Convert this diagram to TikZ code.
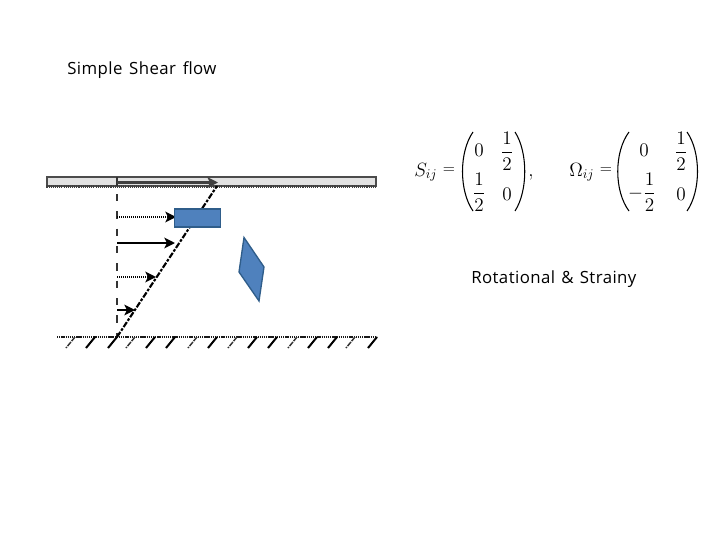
\documentclass[tikz,border=0pt]{standalone}
\usepackage{amsmath}
\usepackage{fontspec}
\setmainfont{Open Sans}[LetterSpace=2.5]
\usetikzlibrary{arrows.meta}
\definecolor{boxblue}{HTML}{4F81BD}
\definecolor{boxedge}{HTML}{2F5D8A}
\definecolor{plategray}{HTML}{E2E2E2}
\tikzset{
  blueshape/.style={fill=boxblue,draw=boxedge,line width=1pt},
  flowarrow/.style={line width=1.6pt,-{Stealth[length=8pt,width=8pt,inset=2pt]},black},
  dottedarrow/.style={flowarrow,line width=2.2pt,dash pattern=on 0.9pt off 0.6pt},
  profile/.style={line width=1.6pt,dash pattern=on 4.5pt off 1.2pt on 2pt off 1.2pt,black},
  axisline/.style={line width=1pt,dash pattern=on 5.5pt off 7.5pt,black!80},
  hatchline/.style={line width=1.5pt,black},
  thinhatch/.style={line width=1.1pt,dash pattern=on 4pt off 0.8pt,black!80},
  parenline/.style={line width=0.8pt,black},
  label/.style={inner sep=0pt,anchor=base west,font=\fontsize{12.6}{14}\selectfont},
  mathlabel/.style={inner sep=0pt,font=\fontsize{14.5}{16}\selectfont},
  eqsign/.style={inner sep=0pt,font=\fontsize{12.5}{14}\selectfont}
}
\begin{document}
\begin{tikzpicture}[x=0.75pt,y=-0.75pt]
\useasboundingbox (0,0) rectangle (728,546);
\node[label] (title) at (67,74) {Simple\hspace{1.5pt} Shear\hspace{1.5pt} flow};
\node[label] (rs) at (471,283) {Rotational\hspace{1.1pt} \&\hspace{1.1pt} Strainy};

% upper plate
\node[fill=plategray,draw=black!70,line width=0.8pt,minimum width=329*0.75pt,minimum height=9*0.75pt,inner sep=0pt] (plate) at (211.5,181.5) {};
\draw[line width=1.6pt,dash pattern=on 0.8pt off 0.8pt,black!75] (plate.south west) -- (plate.south east);

% ground
\coordinate (g0) at (57,337);
\coordinate (g1) at (377,337);
\draw[line width=1.6pt,dash pattern=on 1pt off 0.6pt,black!90] (g0) -- (g1);
\foreach \x/\s in {75/thinhatch,95/hatchline,117/hatchline,135/thinhatch,155/hatchline,175/hatchline,197/thinhatch,217/hatchline,237/thinhatch,257/hatchline,277/hatchline,297/thinhatch,317/hatchline,337/hatchline,355/thinhatch,377/hatchline}
  \draw[\s] (\x,337) -- ++(-9,11);

% profile origin and top
\coordinate (o) at (117,337);
\coordinate (t) at (117,194);
\coordinate (p) at (217,186);
\draw[axisline] (t) -- (o);
\draw[line width=1.8pt,black!80] (117,177) -- (117,186);
\draw[profile] (o) -- (p);

% velocity arrows
\coordinate (a0) at (117,182.5); \coordinate (b0) at (218,182.5);
\coordinate (a1) at (117,217); \coordinate (b1) at (176,217);
\coordinate (a2) at (117,243); \coordinate (b2) at (175,243);
\coordinate (a3) at (117,277); \coordinate (b3) at (156,277);
\coordinate (a4) at (117,310); \coordinate (b4) at (135,310);
\draw[flowarrow,black!75,line width=2pt] (a0) -- (b0);
\draw[dottedarrow] (a1) -- (b1);
\draw[flowarrow,line width=2pt] (a2) -- (b2);
\draw[dottedarrow] (a3) -- (b3);
\draw[flowarrow,line width=1pt] (a4) -- (b4);

% material elements
\node[blueshape,minimum width=46*0.75pt,minimum height=18*0.75pt,inner sep=0pt] (elem) at (197.5,218) {};
\draw[blueshape] (244,237.5) -- (264,267) -- (259,301) -- (239,272) -- cycle;

% tensors
\node[mathlabel,anchor=base west] (s) at (414,176) {$S_{ij}$};
\node[eqsign] (seq) at (449,171) {$=$};
\node[mathlabel] (s11) at (479,150) {$0$};
\node[mathlabel] (s12) at (507,151) {$\dfrac{1}{2}$};
\node[mathlabel] (s21) at (479,192) {$\dfrac{1}{2}$};
\node[mathlabel] (s22) at (507,194) {$0$};
\node[mathlabel,anchor=base] (comma) at (531,176) {$,$};
\draw[parenline] (473,132) .. controls (459,152) and (459,191) .. (473,211);
\draw[parenline] (515,132) .. controls (528,152) and (528,191) .. (515,211);

\node[mathlabel,anchor=base west] (w) at (569,176) {$\Omega_{ij}$};
\node[eqsign] (weq) at (606,171) {$=$};
\node[mathlabel] (w11) at (644,150) {$0$};
\node[mathlabel] (w12) at (681,151) {$\dfrac{1}{2}$};
\node[mathlabel] (w21) at (642,192) {$-\dfrac{1}{2}$};
\node[mathlabel] (w22) at (681,194) {$0$};
\draw[parenline] (629,132) .. controls (614,152) and (614,191) .. (629,211);
\draw[parenline] (687,132) .. controls (701,152) and (701,191) .. (687,211);
\end{tikzpicture}
\end{document}
